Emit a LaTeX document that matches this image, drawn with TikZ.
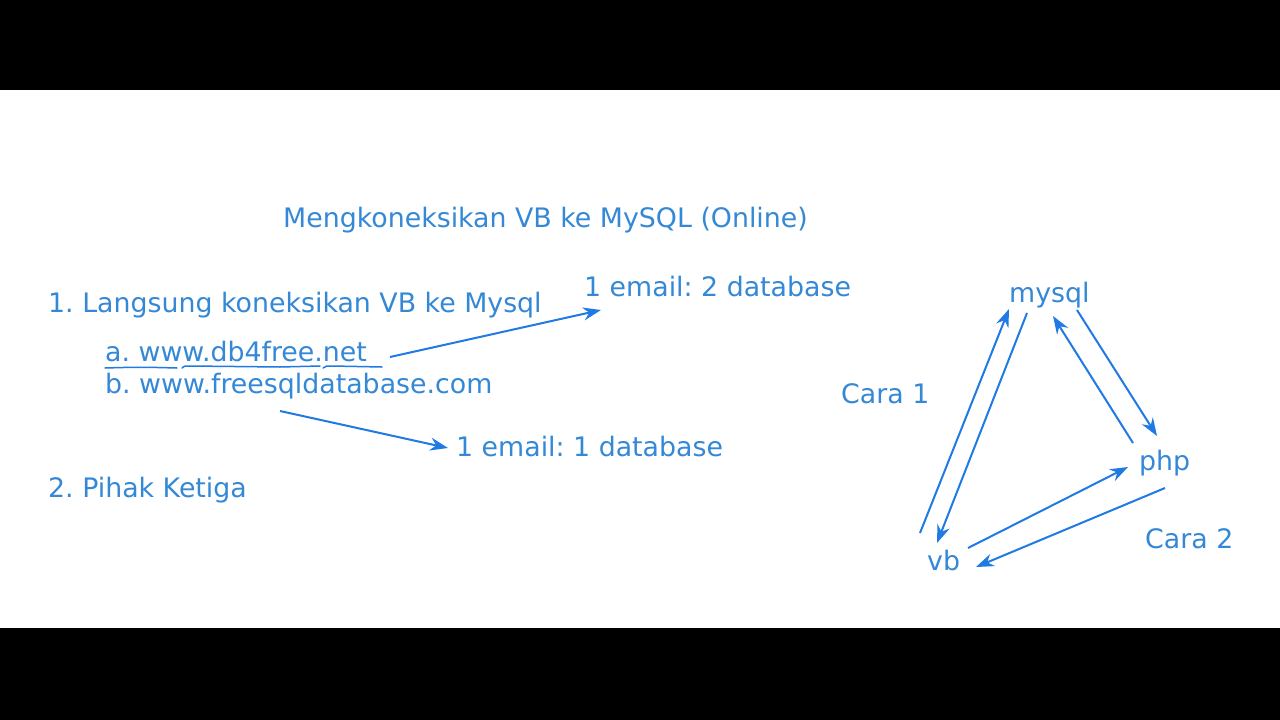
\documentclass[tikz,border=0pt]{standalone}
\usepackage{fontspec}
\setmainfont{DejaVu Sans}
\usetikzlibrary{arrows.meta}
\definecolor{txtblue}{RGB}{52,136,214}
\definecolor{arrblue}{RGB}{32,122,228}
\tikzset{
  lbl/.style={anchor=base west, inner sep=0pt, text=txtblue, font=\fontsize{26.8}{30}\selectfont},
  conn/.style={draw=arrblue, line width=2pt, -{Stealth[length=18pt,width=13pt,inset=6pt]}},
  ul/.style={draw=arrblue, line width=1.5pt, line cap=round}
}
\frenchspacing
\begin{document}
\begin{tikzpicture}[x=1pt,y=-1pt]
\useasboundingbox (0,0) rectangle (1280,720);
\fill[black] (0,0) rectangle (1280,90);
\fill[white] (0,90) rectangle (1280,628);
\fill[black] (0,628) rectangle (1280,720);

\node[lbl] (title) at (283,227) {Mengkoneksikan VB ke MySQL (Online)};
\node[lbl] (one) at (48,312) {1. Langsung koneksikan VB ke Mysql};
\node[lbl] (e2) at (584,296) {1 email: 2 database};
\node[lbl] (a) at (105,361) {a. www.db4free.net};
\node[lbl] (b) at (105,393) {b. www.freesqldatabase.com};
\node[lbl] (e1) at (456,456) {1 email: 1 database};
\node[lbl] (two) at (48,497) {2. Pihak Ketiga};

\node[lbl] (mysql) at (1009,302) {mysql};
\node[lbl] (cara1) at (841,403) {Cara 1};
\node[lbl] (php) at (1139,470) {php};
\node[lbl] (vb) at (927,570) {vb};
\node[lbl] (cara2) at (1145,548) {Cara 2};

% underline of a.
\draw[ul] (105,368) .. controls (140,367) .. (177,368);
\draw[ul] (182,368) .. controls (184,366) .. (190,366) -- (280,367) .. controls (300,367) .. (320,366);
\draw[ul] (323,368) .. controls (326,366) .. (332,366) -- (382,367);

% coordinates
\coordinate (aOut) at (390,357);
\coordinate (e2In) at (601,310);
\coordinate (bOut) at (280,411);
\coordinate (e1In) at (448,448);

\coordinate (vbA) at (920,533);
\coordinate (vbB) at (937,543);
\coordinate (vbC) at (968,548);
\coordinate (vbD) at (976,567);
\coordinate (myA) at (1009,309);
\coordinate (myB) at (1027,313);
\coordinate (myC) at (1053,316);
\coordinate (myD) at (1077,310);
\coordinate (phA) at (1133,443);
\coordinate (phB) at (1157,436);
\coordinate (phC) at (1128,467);
\coordinate (phD) at (1165,488);

\draw[conn] (aOut) -- (e2In);
\draw[conn] (bOut) -- (e1In);

\draw[conn] (vbA) -- (myA);
\draw[conn] (myB) -- (vbB);
\draw[conn] (phA) -- (myC);
\draw[conn] (myD) -- (phB);
\draw[conn] (vbC) -- (phC);
\draw[conn] (phD) -- (vbD);
\end{tikzpicture}
\end{document}
